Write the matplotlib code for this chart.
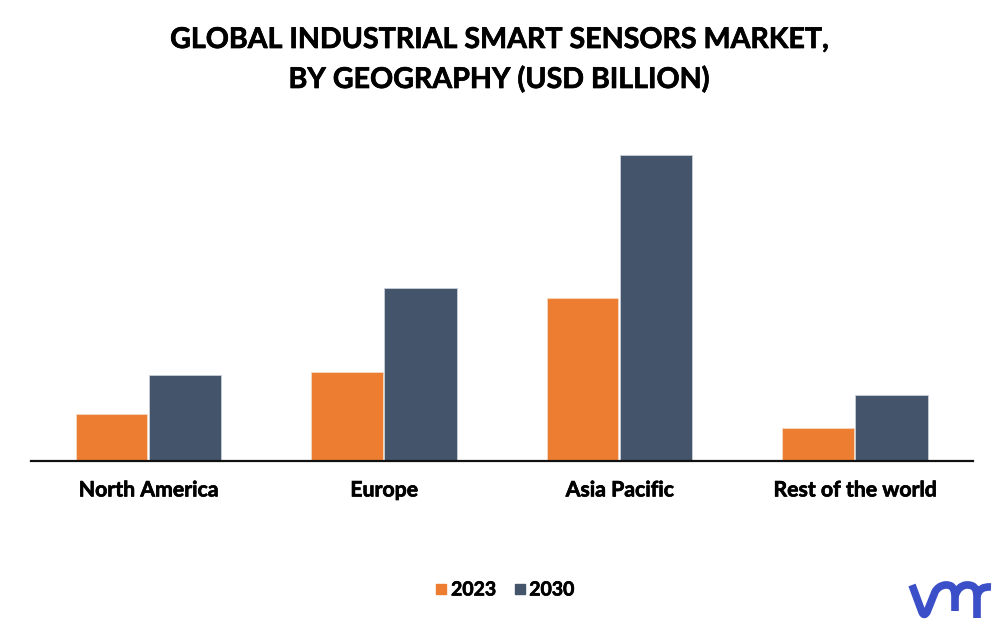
import matplotlib
matplotlib.use("Agg")
import matplotlib.pyplot as plt
import matplotlib.patheffects as pe
from matplotlib.lines import Line2D
from matplotlib.path import Path
from matplotlib.patches import PathPatch
import numpy as np

plt.rcParams['font.family'] = ['Lato', 'DejaVu Sans']

title = "GLOBAL INDUSTRIAL SMART SENSORS MARKET,\nBY GEOGRAPHY (USD BILLION)"
categories = ["North America", "Europe", "Asia Pacific", "Rest of the world"]
years = ["2023", "2030"]
values_2023 = [47, 89, 163, 33]
values_2030 = [86, 173, 306, 66]
colors = ["#ED7D31", "#44546A"]

W, H = 997, 622
fig = plt.figure(figsize=(W / 100, H / 100), dpi=100, facecolor="white")
ax = fig.add_axes([31 / W, 1 - 461 / H, 942 / W, 331 / H])

x = np.arange(len(categories))
ax.bar(x - 0.159, values_2023, 0.304, color=colors[0], edgecolor="#f7d9c4", linewidth=0.6, label=years[0])
ax.bar(x + 0.154, values_2030, 0.308, color=colors[1], edgecolor="#c9d0da", linewidth=0.6, label=years[1])

heavy = [pe.withStroke(linewidth=0.5, foreground="black")]

ax.set_xlim(-0.5, 3.5)
ax.set_ylim(0, 331)
ax.set_yticks([])
ax.set_xticks(x)
ax.set_xticklabels(categories, fontsize=15.3, fontweight="bold", color="black", path_effects=heavy)
ax.tick_params(axis="x", length=0, pad=14)
for s in ("top", "left", "right"):
    ax.spines[s].set_visible(False)
ax.spines["bottom"].set_linewidth(1.6)
ax.spines["bottom"].set_color("#111111")

fig.text(499 / W, 1 - 60 / H, title, ha="center", va="center", fontsize=20.6,
         fontweight="bold", color="black", linespacing=1.58, path_effects=heavy)

# legend
handles = [Line2D([], [], linestyle="none", marker="s", markersize=7, color=c) for c in colors]
leg = fig.legend(handles, years, loc="center", bbox_to_anchor=(505 / W, 1 - 590 / H), ncol=2,
                 frameon=False, handlelength=0.6, handletextpad=0.2, columnspacing=0.9,
                 prop={"size": 14, "weight": "bold"})
for t in leg.get_texts():
    t.set_path_effects(heavy)

# logo mark
logo = fig.add_axes([0, 0, 1, 1], facecolor="none")
logo.set_xlim(0, W)
logo.set_ylim(H, 0)
logo.axis("off")
verts = [(912, 585), (922, 612), (924, 617), (927, 612), (935, 592), (938, 586), (945, 585),
         (955, 584), (955, 596), (955, 611),
         (955, 596), (958, 586), (966, 585), (977, 584), (977, 596), (977, 618),
         (977, 596), (979, 586), (991, 587)]
codes = [Path.MOVETO, Path.LINETO, Path.CURVE3, Path.CURVE3, Path.LINETO, Path.CURVE3, Path.CURVE3,
         Path.CURVE3, Path.CURVE3, Path.LINETO,
         Path.MOVETO, Path.CURVE3, Path.CURVE3, Path.CURVE3, Path.CURVE3, Path.LINETO,
         Path.MOVETO, Path.CURVE3, Path.CURVE3]
logo.add_patch(PathPatch(Path(verts, codes), fill=False, edgecolor="#3B4FC8", linewidth=5.5,
                         capstyle="butt", joinstyle="round"))

fig.savefig("out.png", dpi=100, facecolor="white")
